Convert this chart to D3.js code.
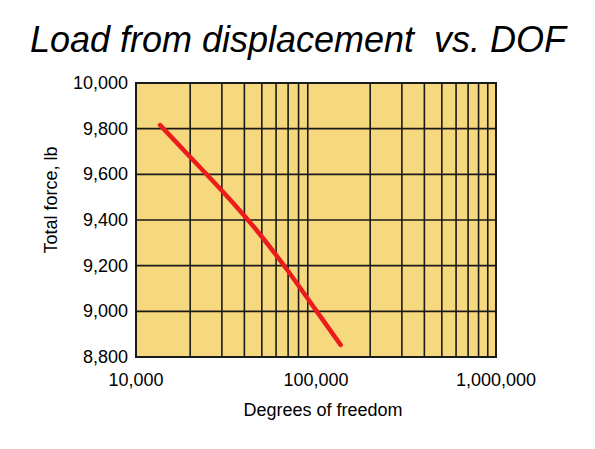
<!DOCTYPE html><html><head><script src="https://cdn.jsdelivr.net/npm/d3@7"></script>
<style>body{margin:0;background:#fff}</style></head><body><svg id="c" width="595" height="449"></svg>
<script>
const dof=[13600,20000,30500,41000,50700,68300,100000,137000];
const force=[9816,9676,9524,9410,9322,9190,9004,8853];
const yTicks=[8800,9000,9200,9400,9600,9800,10000];
const xTickLabels=[10000,100000,1000000];
const svg=d3.select("#c");
const x=d3.scaleLog().domain([1e4,1e6]).range([136,496]);
const y=d3.scaleLinear().domain([8800,10000]).range([357,83]);
const f="Liberation Sans, Arial, sans-serif";
svg.append("rect").attr("x",136).attr("y",83).attr("width",360).attr("height",274).attr("fill","#f6d87e");
const minor=[];for(let d=1e4;d<1e6;d*=10)for(let k=2;k<=9;k++)minor.push(d*k);
svg.selectAll(".vx").data(minor).enter().append("line").attr("x1",d=>x(d)).attr("x2",d=>x(d)).attr("y1",83).attr("y2",357).attr("stroke","#1a1a1a").attr("stroke-width",1.6);
svg.selectAll(".hy").data(yTicks).enter().append("line").attr("x1",136).attr("x2",496).attr("y1",d=>y(d)).attr("y2",d=>y(d)).attr("stroke","#1a1a1a").attr("stroke-width",1.6);
svg.append("rect").attr("x",136).attr("y",83).attr("width",360).attr("height",274).attr("fill","none").attr("stroke","#1a1a1a").attr("stroke-width",2);
svg.append("path").datum(dof.map((d,i)=>[d,force[i]])).attr("d",d3.line().x(d=>x(d[0])).y(d=>y(d[1])).curve(d3.curveBasis)).attr("fill","none").attr("stroke","#ec1c1c").attr("stroke-width",4.5).attr("stroke-linecap","round");
svg.selectAll(".yl").data(yTicks).enter().append("text").attr("x",128).attr("y",d=>y(d)+6).attr("text-anchor","end").attr("font-family",f).attr("font-size",18).text(d3.format(","));
svg.selectAll(".xl").data(xTickLabels).enter().append("text").attr("x",d=>x(d)).attr("y",386).attr("text-anchor","middle").attr("font-family",f).attr("font-size",18).text(d3.format(","));
svg.append("text").attr("x",323).attr("y",416).attr("text-anchor","middle").attr("font-family",f).attr("font-size",18).text("Degrees of freedom");
svg.append("text").attr("transform","translate(57,200) rotate(-90)").attr("text-anchor","middle").attr("font-family",f).attr("font-size",18).text("Total force, lb");
svg.append("text").attr("x",298).attr("y",52).attr("text-anchor","middle").attr("font-family",f).attr("font-style","italic").attr("font-size",36).attr("xml:space","preserve").text("Load from displacement  vs. DOF");
</script></body></html>
